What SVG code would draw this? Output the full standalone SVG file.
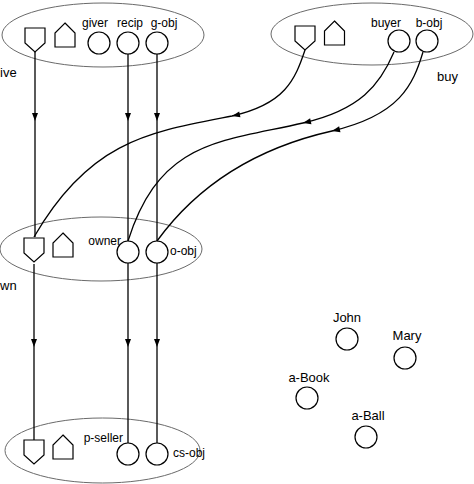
<svg xmlns="http://www.w3.org/2000/svg" width="474" height="484" viewBox="0 0 474 484">
<style>
.frame{fill:none;stroke:#6a6a6a;stroke-width:1}
.sh{fill:#fff;stroke:#000;stroke-width:1.2}
.ln{fill:none;stroke:#000;stroke-width:1.3;marker-mid:url(#ah)}
text{font-family:"Liberation Sans",Arial,sans-serif;font-size:12px;fill:#000}
.big{font-size:13px}
.mid{text-anchor:middle}
.end{text-anchor:end}
</style>
<defs>
<marker id="ah" markerUnits="userSpaceOnUse" markerWidth="9" markerHeight="7" refX="8" refY="3" orient="auto" overflow="visible">
<path d="M0,0 L8,3 L0,6 Z" fill="#000"/>
</marker>
<path id="pent" d="M-10,-24 H10 V-9 L0,0 L-10,-9 Z"/>
<path id="house" d="M0,0 L10,10 V24 H-10 V10 Z"/>
</defs>

<g id="give">
<ellipse class="frame" cx="103" cy="35" rx="101" ry="32"/>
<use href="#pent" class="sh" x="35" y="52"/>
<use href="#house" class="sh" x="65" y="23"/>
<circle class="sh" cx="99" cy="43" r="11"/>
<circle class="sh" cx="128" cy="43" r="11"/>
<circle class="sh" cx="157" cy="43" r="11"/>
<text class="mid" x="95" y="27">giver</text>
<text class="mid" x="130" y="27">recip</text>
<text class="mid" x="164" y="27">g-obj</text>
<text class="big" x="0" y="77">ive</text>
</g>

<g id="buy">
<ellipse class="frame" cx="372" cy="34" rx="101" ry="31"/>
<use href="#pent" class="sh" x="305" y="50"/>
<use href="#house" class="sh" x="334.5" y="21"/>
<circle class="sh" cx="399" cy="41" r="11"/>
<circle class="sh" cx="427" cy="41" r="11"/>
<text class="mid" x="386" y="27">buyer</text>
<text class="mid" x="429" y="27">b-obj</text>
<text class="big" x="437" y="81">buy</text>
</g>

<g id="own">
<ellipse class="frame" cx="101" cy="249" rx="101" ry="32"/>
<use href="#pent" class="sh" x="34" y="262"/>
<use href="#house" class="sh" x="63" y="233"/>
<circle class="sh" cx="128" cy="252" r="11"/>
<circle class="sh" cx="157" cy="252" r="11"/>
<text class="end" x="121" y="245">owner</text>
<text x="170" y="255">o-obj</text>
<text class="big" x="0" y="290">wn</text>
</g>

<g id="sell">
<ellipse class="frame" cx="102.5" cy="450.5" rx="97.5" ry="32.5"/>
<use href="#pent" class="sh" x="34" y="464"/>
<use href="#house" class="sh" x="63" y="435"/>
<circle class="sh" cx="128" cy="454" r="11"/>
<circle class="sh" cx="157" cy="454" r="11"/>
<text class="end" x="123" y="442">p-seller</text>
<text x="173" y="457">cs-obj</text>
</g>

<g id="John"><circle class="sh" cx="347" cy="339" r="11"/><text class="big mid" x="347" y="322">John</text></g>
<g id="Mary"><circle class="sh" cx="405" cy="358" r="11"/><text class="big mid" x="407" y="340">Mary</text></g>
<g id="a-Book"><circle class="sh" cx="307" cy="398" r="11"/><text class="big mid" x="309" y="382">a-Book</text></g>
<g id="a-Ball"><circle class="sh" cx="366" cy="437" r="11"/><text class="big mid" x="368" y="420">a-Ball</text></g>

<g id="connectors">
<path class="ln" d="M35,52 L35,121 L35,237"/>
<path class="ln" d="M128,54 L128,121 L128,241"/>
<path class="ln" d="M157,54 L157,121 L157,241"/>
<path class="ln" d="M34,264 L34,347 L34,440"/>
<path class="ln" d="M128,263 L128,347 L128,443"/>
<path class="ln" d="M157,263 L157,347 L157,443"/>
<path class="ln" d="M305,50 C295,80 285,104 232,116 C150,132 90,140 34,237"/>
<path class="ln" d="M394,52 C380,85 360,110 303,123 C220,142 160,140 128,241"/>
<path class="ln" d="M423,52 C413,85 400,115 332,131 C270,145 205,175 157,241"/>
</g>
</svg>
